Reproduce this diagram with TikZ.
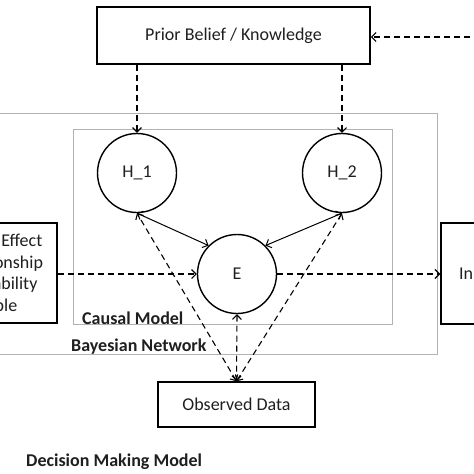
\documentclass[tikz,border=0pt]{standalone}
\usepackage{fontspec}
\setmainfont{Carlito}
\usetikzlibrary{arrows.meta}
\begin{document}
\begin{tikzpicture}[x=1pt,y=-1pt,
  txt/.style={font=\fontsize{18}{21.5}\selectfont, text=black!88},
  bold/.style={font=\fontsize{18}{21.5}\selectfont\bfseries, text=black!88, inner sep=0pt, anchor=west},
  bbox/.style={draw, line width=1.5pt, rectangle, inner sep=0pt, txt},
  cnode/.style={draw, line width=1.4pt, circle, minimum size=79pt, inner sep=0pt, txt},
  frame/.style={draw=black!30, line width=0.9pt},
  dsh/.style={line width=1.1pt, dash pattern=on 6pt off 4pt, arrows={-Straight Barb[length=4.5pt,width=9pt]}},
  dsh2/.style={line width=1.1pt, dash pattern=on 6pt off 4pt, arrows={Straight Barb[length=4.5pt,width=9pt]-Straight Barb[length=4.5pt,width=9pt]}},
  sol2/.style={line width=1pt, arrows={Straight Barb[length=4.5pt,width=9pt]-Straight Barb[length=4.5pt,width=9pt]}}
]
\useasboundingbox (0,0) rectangle (474,474);
\clip (0,0) rectangle (474,474);
\fill[white] (0,0) rectangle (474,474);

% gray frames
\draw[frame] (-20,113) rectangle (437,354);
\draw[frame] (73,129) rectangle (392,324);

% boxes
\node[bbox, minimum width=273pt, minimum height=57pt] (prior) at (233.5,35.5) {Prior Belief / Knowledge};
\node[bbox, minimum width=118pt, minimum height=100pt, align=center] (cause) at (-2,273) {Cause Effect\\Relationship\\Probability\\Table};
\node[bbox, minimum width=120pt, minimum height=101pt] (infer) at (501,273.5) {};
\node[txt, anchor=west, inner sep=0pt] (intxt) at (459,274) {In};
\node[bbox, minimum width=157pt, minimum height=45pt] (obs) at (236.5,404.5) {Observed Data};

% circles
\node[cnode] (h1) at (137,173) {H\_1};
\node[cnode] (h2) at (342,173) {H\_2};
\node[cnode] (e) at (237,274) {E};

% labels
\node[bold] (cm) at (82,318) {Causal Model};
\node[bold] (bn) at (71,347) {Bayesian Network};
\node[bold] (dm) at (26,462) {Decision Making Model};

% connectors
\coordinate (topright) at (480,37);
\draw[dsh] (topright) -- (prior.east |- topright);
\draw[dsh] (prior.south -| h1.north) -- (h1.north);
\draw[dsh] (prior.south -| h2.north) -- (h2.north);
\draw[sol2] (h1.south) -- (e.135);
\draw[sol2] (h2.south) -- (e.45);
\draw[dsh] (cause.east |- e.west) -- (e.west);
\draw[dsh] (e.east) -- (infer.west |- e.east);
\draw[dsh2] (e.south) -- (obs.north);
\draw[dsh2] (obs.north) -- (h1.south);
\draw[dsh2] (obs.north) -- (h2.south);
\end{tikzpicture}
\end{document}
